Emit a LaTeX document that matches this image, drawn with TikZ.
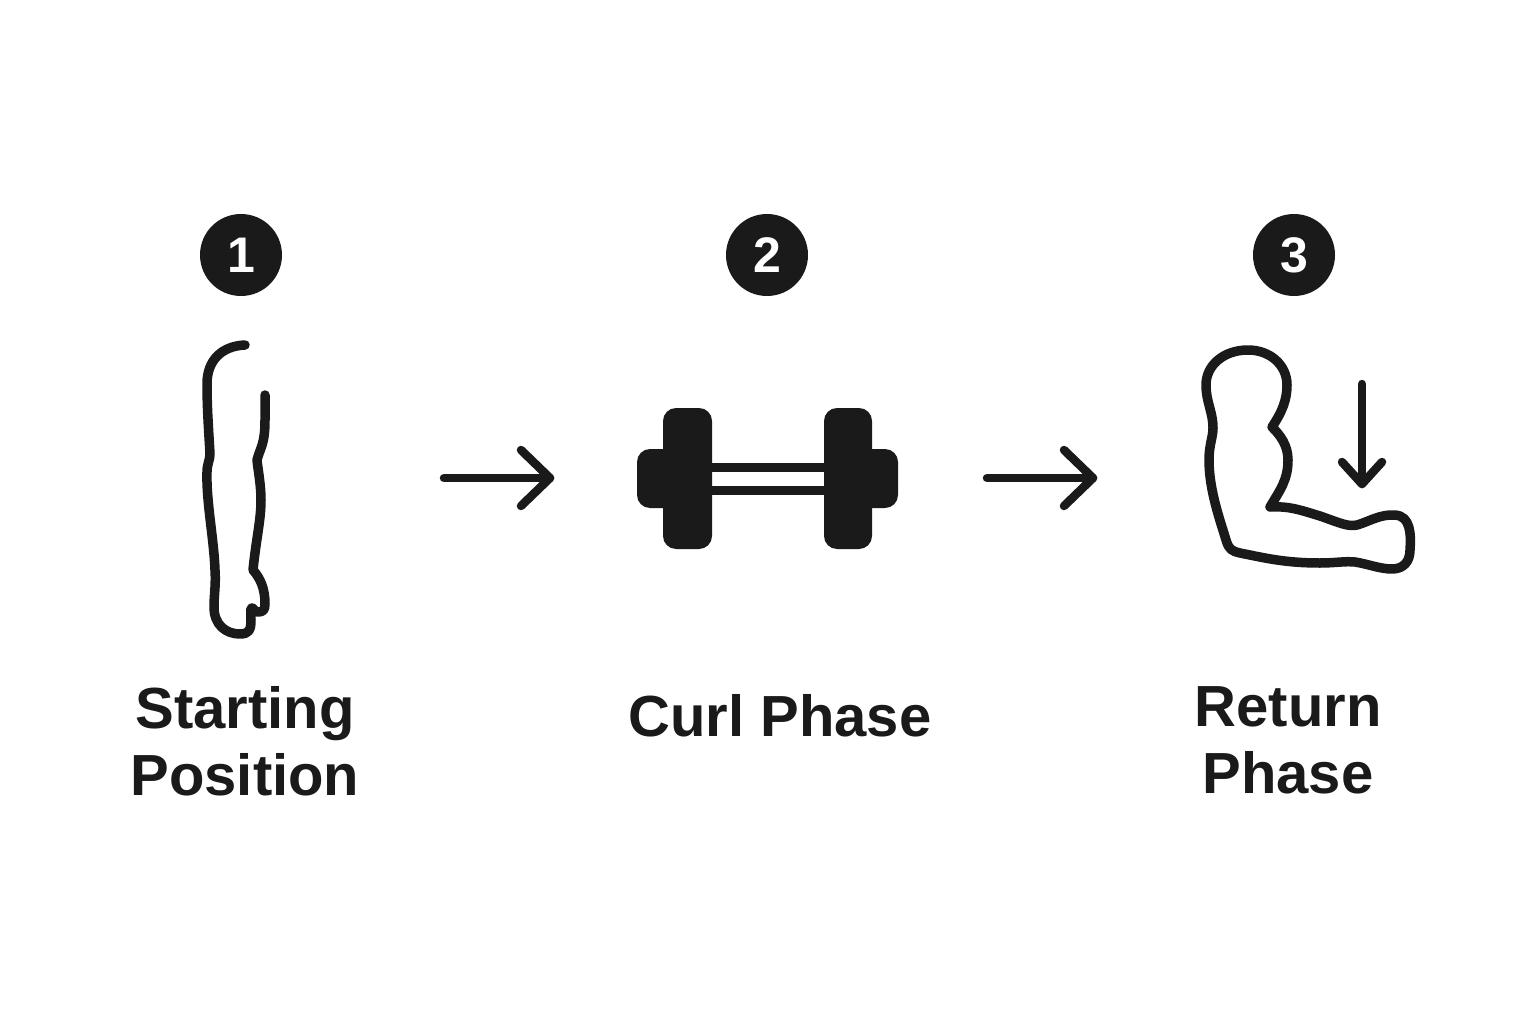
\documentclass[tikz,border=0pt]{standalone}
\usepackage{fontspec}
\setmainfont{Liberation Sans}
\definecolor{ink}{HTML}{1A1A1A}
\tikzset{
  outline/.style={draw=ink,line width=9.5pt,line cap=round,line join=round},
  flow/.style={draw=ink,line width=8.5pt,line cap=round,line join=round},
  badge/.style={circle,fill=ink,text=white,minimum size=82pt,inner sep=0pt,font=\fontsize{50}{50}\selectfont\bfseries},
  caption/.style={text=ink,align=center,inner sep=0pt,font=\fontsize{58}{67}\selectfont\bfseries},
  plate/.style={fill=ink,rounded corners=13pt}
}
\begin{document}
\begin{tikzpicture}[x=1pt,y=-1pt]
\useasboundingbox[fill=white] (0,0) rectangle (1536,1024);
% badges
\node[badge] (n1) at (241,255) {1};
\node[badge] (n2) at (767,255) {2};
\node[badge] (n3) at (1294,255) {3};
% captions
\node[caption] (c1) at (245,741) {Starting\\Position};
\node[caption] (c2) at (780,716) {Curl Phase};
\node[caption] (c3) at (1288,740) {Return\\Phase};
% arm 1
\draw[outline] (245,345) .. controls (222,346) and (207,360) .. (207,384)
  .. controls (207,410) and (209,435) .. (210,454)
  .. controls (210,460) and (207,464) .. (207,472)
  .. controls (206,500) and (214,540) .. (215,570)
  .. controls (216,585) and (214,595) .. (214,607)
  .. controls (214,625) and (226,634) .. (240,634)
  .. controls (249,634) and (251,630) .. (251,620)
  .. controls (251,612) and (250,608) .. (252,608)
  .. controls (254,608) and (254,612) .. (258,612)
  .. controls (263,612) and (265,610) .. (265,604)
  .. controls (265,588) and (260,578) .. (253,570)
  .. controls (256,540) and (261,520) .. (261,500)
  .. controls (261,485) and (258,470) .. (257,460)
  .. controls (260,448) and (265,445) .. (265,420)
  -- (265,395);
% dumbbell
\fill[ink] (705,463) rectangle (830,472);
\fill[ink] (705,486) rectangle (830,495);
\fill[plate] (637,449) rectangle (690,508);
\fill[plate] (845,449) rectangle (898,508);
\fill[plate] (663,408) rectangle (712,549);
\fill[plate] (824,408) rectangle (872,549);
% arm 3
\draw[outline] (1272,427) .. controls (1282,412) and (1287,400) .. (1287,385)
  .. controls (1287,365) and (1270,350) .. (1248,350)
  .. controls (1224,350) and (1206,365) .. (1206,385)
  .. controls (1206,402) and (1213,412) .. (1213,428)
  .. controls (1213,437) and (1209,445) .. (1209,460)
  .. controls (1209,490) and (1220,520) .. (1226,540)
  .. controls (1229,550) and (1232,551) .. (1240,553)
  .. controls (1265,558) and (1285,563) .. (1320,563)
  .. controls (1335,563) and (1345,561) .. (1355,562)
  .. controls (1368,564) and (1380,569) .. (1392,569)
  .. controls (1403,569) and (1410,562) .. (1410,550)
  .. controls (1411,535) and (1411,516) .. (1395,515)
  .. controls (1380,514) and (1368,522) .. (1357,525)
  .. controls (1348,527) and (1340,523) .. (1320,516)
  .. controls (1300,510) and (1290,506) .. (1270,507)
  .. controls (1280,490) and (1288,480) .. (1288,460)
  .. controls (1288,445) and (1280,435) .. (1272,427) -- cycle;
% flow arrows
\coordinate (a1s) at (444,478); \coordinate (a1e) at (550,478);
\coordinate (a2s) at (987,478); \coordinate (a2e) at (1093,478);
\coordinate (a3s) at (1362,384); \coordinate (a3e) at (1362,484);
\draw[flow] (a1s) -- (a1e);
\draw[flow] ([shift={(-29,-28)}]a1e) -- (a1e) -- ([shift={(-29,28)}]a1e);
\draw[flow] (a2s) -- (a2e);
\draw[flow] ([shift={(-29,-28)}]a2e) -- (a2e) -- ([shift={(-29,28)}]a2e);
\draw[flow] (a3s) -- (a3e);
\draw[flow] ([shift={(-20,-22)}]a3e) -- (a3e) -- ([shift={(20,-22)}]a3e);
\end{tikzpicture}
\end{document}
